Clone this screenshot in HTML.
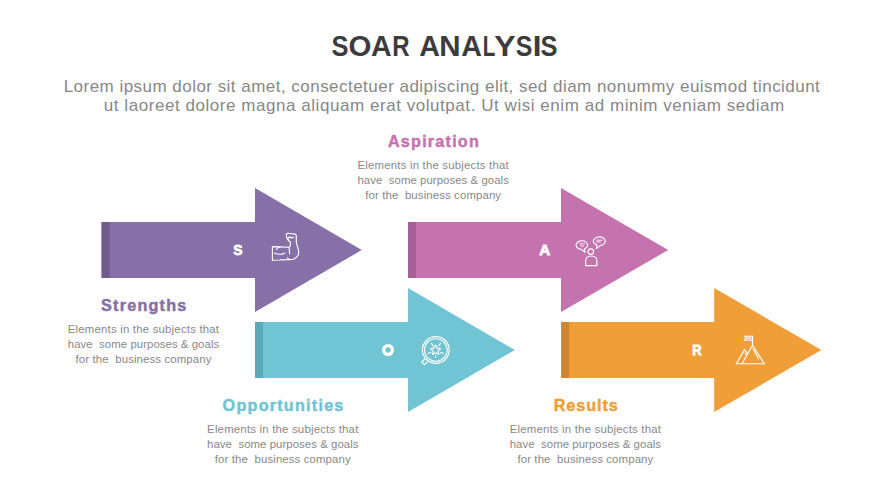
<!DOCTYPE html>
<html><head><meta charset="utf-8">
<style>
html,body{margin:0;padding:0;background:#fff;}
body{width:889px;height:500px;position:relative;overflow:hidden;font-family:"Liberation Sans",sans-serif;}
.t{position:absolute;white-space:pre;line-height:1;transform:translateX(-50%);}
svg{position:absolute;left:0;top:0;}
</style></head><body>
<svg width="889" height="500" viewBox="0 0 889 500">
<polygon points="101.6,222 255,222 255,188 361.8,250 255,312 255,278 101.6,278" fill="#8670a7"/><rect x="101.6" y="222" width="8" height="56" fill="#705b8c"/><polygon points="408,222 561,222 561,188 668.2,250 561,312 561,278 408,278" fill="#c473ae"/><rect x="408" y="222" width="8" height="56" fill="#a85e96"/><polygon points="255,322 408,322 408,288 514.8,350 408,412 408,378 255,378" fill="#70c4d3"/><rect x="255" y="322" width="8" height="56" fill="#5aaab9"/><polygon points="561.2,322 714.2,322 714.2,288 821.4,350 714.2,412 714.2,378 561.2,378" fill="#f09e38"/><rect x="561.2" y="322" width="8" height="56" fill="#cd8633"/>
<g transform="translate(268,229)" stroke="#fff" stroke-width="1.15" fill="none" stroke-linecap="round" stroke-linejoin="round">
<path d="M4.4,17.6 L4.4,31.2 L12,31 Q12.7,30.1 13.4,30.9 L21,30.6 L25.4,30.3 Q28.6,28.9 30.4,26 Q31.1,22.8 29.8,18.6 Q28.6,16 28.3,13 L28.3,6.6 Q28.1,5.3 27,5.1 L20,4.2 Q18.3,4.2 18.3,5.9 Q18.4,8.5 19.8,10.6 Q20.8,12 22.6,13 L21.9,17.4 Q21.2,18.8 19.6,18.3 L12,17.9 L4.4,17.6"/>
<path d="M8.4,20.4 Q9.2,18.6 12,18"/>
<path d="M21.2,19.2 L21.6,24.8"/>
<path d="M6.4,24.2 Q10,25.7 14,25.1 L16.8,24.2"/>
<path d="M19.3,28.9 Q20.2,29.6 21,30.5"/>
<path d="M20.2,10.2 Q20.2,8.2 21.8,7.9 Q22.6,8 23,8.9 L25.8,8.2"/>
</g>
<g stroke="#fff" stroke-width="1.15" fill="none" stroke-linecap="round" stroke-linejoin="round">
<path d="M585.6,265.6 L596.9,265.6 L596.9,261.6 Q596.9,256 591.25,256 Q585.6,256 585.6,261.6 Z"/>
<circle cx="590.8" cy="251.6" r="2.8"/>
<g transform="translate(582.2,245.1)"><path d="M2.05,3.9 A5.8 4.3 0 1 0 -1.1,4.25 L3,7.2 Z"/></g>
<g transform="translate(599.5,241.3)"><path d="M1.04,4.1 A6 4.3 0 1 0 -2.54,3.85 L-3.1,7.2 Z"/></g>
<path d="M579.6,243.9 L584.6,243.9 M580.6,246.1 L583.6,246.1 M596.6,240.2 L602,240.2 M596.6,242.1 L600.5,242.1" stroke-width="0.9"/>
</g>
<g transform="translate(418,332)" stroke="#fff" stroke-width="1.15" fill="none" stroke-linecap="round" stroke-linejoin="round">
<circle cx="17.8" cy="18" r="13.4"/>
<circle cx="17.8" cy="18" r="11.3"/>
<path d="M6.6,27.2 L3.8,30 L6.5,32.6 L9.3,29.8"/>
<path d="M17.6,12.9 L19.1,16.1 L22.6,16.6 L20,19.1 L20.8,22.5 L17.6,20.8 L14.5,22.5 L15.2,19.1 L12.7,16.6 L16.1,16.1 Z"/>
<path d="M13.4,11.3 L15.2,13.8 M22.5,11.3 L20.6,13.8 M10.2,21.6 L12.9,20.3 M25.3,21.6 L22.6,20.3 M17.6,23.6 L17.6,25.4"/>
</g>
<g transform="translate(732,332)" stroke="#fff" stroke-width="1.15" fill="none" stroke-linecap="round" stroke-linejoin="round">
<path d="M4.3,31.7 L32.4,31.7 L20.5,13.3 L10.1,31.7"/>
<path d="M4.3,31.7 L12.6,17.6 L15.6,21.8"/>
<path d="M21.1,16.7 L26.6,26.8"/>
<path d="M13.2,21 L14.2,23"/>
<path d="M20.5,13.3 L20.5,4.2 L12.3,4.2 L14.3,6.2 L12.3,8.2 L20.5,8.2"/>
<path d="M14.8,6.1 L19.2,6.1"/>
</g>
<circle cx="388.1" cy="350.1" r="4.4" stroke="#fff" stroke-width="3.3" fill="none"/>
</svg>
<div class="t" style="left:339.89px;top:31.89px;font-size:28.6px;font-weight:bold;color:#3c3c3c;transform:translateX(-50%) scaleX(0.89)">S</div><div class="t" style="left:360.32px;top:31.89px;font-size:28.6px;font-weight:bold;color:#3c3c3c;transform:translateX(-50%) scaleX(1.03)">O</div><div class="t" style="left:381.28px;top:31.89px;font-size:28.6px;font-weight:bold;color:#3c3c3c;transform:translateX(-50%) scaleX(1.0)">A</div><div class="t" style="left:401.19px;top:31.89px;font-size:28.6px;font-weight:bold;color:#3c3c3c;transform:translateX(-50%) scaleX(0.84)">R</div><div class="t" style="left:429.58px;top:31.89px;font-size:28.6px;font-weight:bold;color:#3c3c3c;transform:translateX(-50%) scaleX(1.0)">A</div><div class="t" style="left:450.07px;top:31.89px;font-size:28.6px;font-weight:bold;color:#3c3c3c;transform:translateX(-50%) scaleX(1.03)">N</div><div class="t" style="left:471.58px;top:31.89px;font-size:28.6px;font-weight:bold;color:#3c3c3c;transform:translateX(-50%) scaleX(1.0)">A</div><div class="t" style="left:488.70px;top:31.89px;font-size:28.6px;font-weight:bold;color:#3c3c3c;transform:translateX(-50%) scaleX(0.72)">L</div><div class="t" style="left:505.09px;top:31.89px;font-size:28.6px;font-weight:bold;color:#3c3c3c;transform:translateX(-50%) scaleX(1.12)">Y</div><div class="t" style="left:523.73px;top:31.89px;font-size:28.6px;font-weight:bold;color:#3c3c3c;transform:translateX(-50%) scaleX(0.87)">S</div><div class="t" style="left:536.68px;top:31.89px;font-size:28.6px;font-weight:bold;color:#3c3c3c;transform:translateX(-50%) scaleX(1.1)">I</div><div class="t" style="left:549.49px;top:31.89px;font-size:28.6px;font-weight:bold;color:#3c3c3c;transform:translateX(-50%) scaleX(0.89)">S</div>
<div class="t" style="left:442px;top:77.61px;font-size:17px;color:#878787;letter-spacing:0.47px">Lorem ipsum dolor sit amet, consectetuer adipiscing elit, sed diam nonummy euismod tincidunt</div>
<div class="t" style="left:444.3px;top:96.81px;font-size:17px;color:#878787;letter-spacing:0.55px">ut laoreet dolore magna aliquam erat volutpat. Ut wisi enim ad minim veniam sediam</div>
<div class="t" style="left:434.00px;top:133.29px;font-size:16.2px;font-weight:bold;color:#c473ae;letter-spacing:1.2px;-webkit-text-stroke:0.45px #c473ae">Aspiration</div><div class="t" style="left:433.2px;top:160.05px;font-size:11.4px;color:#888888;letter-spacing:0.2px">Elements in the subjects that</div><div class="t" style="left:433.2px;top:175.05px;font-size:11.4px;color:#888888;letter-spacing:0.05px">have  some purposes &amp; goals</div><div class="t" style="left:433.2px;top:190.05px;font-size:11.4px;color:#888888;letter-spacing:0.12px">for the  business company</div><div class="t" style="left:144.30px;top:296.89px;font-size:16.2px;font-weight:bold;color:#8670a7;letter-spacing:1.2px;-webkit-text-stroke:0.45px #8670a7">Strengths</div><div class="t" style="left:143.5px;top:323.65px;font-size:11.4px;color:#888888;letter-spacing:0.2px">Elements in the subjects that</div><div class="t" style="left:143.5px;top:338.65px;font-size:11.4px;color:#888888;letter-spacing:0.05px">have  some purposes &amp; goals</div><div class="t" style="left:143.5px;top:353.65px;font-size:11.4px;color:#888888;letter-spacing:0.12px">for the  business company</div><div class="t" style="left:283.60px;top:397.09px;font-size:16.2px;font-weight:bold;color:#70c4d3;letter-spacing:1.22px;-webkit-text-stroke:0.45px #70c4d3">Opportunities</div><div class="t" style="left:282.8px;top:423.85px;font-size:11.4px;color:#888888;letter-spacing:0.2px">Elements in the subjects that</div><div class="t" style="left:282.8px;top:438.85px;font-size:11.4px;color:#888888;letter-spacing:0.05px">have  some purposes &amp; goals</div><div class="t" style="left:282.8px;top:453.85px;font-size:11.4px;color:#888888;letter-spacing:0.12px">for the  business company</div><div class="t" style="left:586.20px;top:397.09px;font-size:16.2px;font-weight:bold;color:#f09e38;letter-spacing:0.92px;-webkit-text-stroke:0.45px #f09e38">Results</div><div class="t" style="left:585.4px;top:423.85px;font-size:11.4px;color:#888888;letter-spacing:0.2px">Elements in the subjects that</div><div class="t" style="left:585.4px;top:438.85px;font-size:11.4px;color:#888888;letter-spacing:0.05px">have  some purposes &amp; goals</div><div class="t" style="left:585.4px;top:453.85px;font-size:11.4px;color:#888888;letter-spacing:0.12px">for the  business company</div>
<div class="t" style="left:237.6px;top:242.43px;font-size:15.2px;font-weight:bold;color:#fff;-webkit-text-stroke:0.8px #fff;transform:translateX(-50%) scaleX(0.92)">S</div><div class="t" style="left:544.8px;top:242.43px;font-size:15.2px;font-weight:bold;color:#fff;-webkit-text-stroke:0.8px #fff;transform:translateX(-50%) scaleX(1)">A</div><div class="t" style="left:696.5px;top:342.43px;font-size:15.2px;font-weight:bold;color:#fff;-webkit-text-stroke:0.8px #fff;transform:translateX(-50%) scaleX(0.85)">R</div>
</body></html>
